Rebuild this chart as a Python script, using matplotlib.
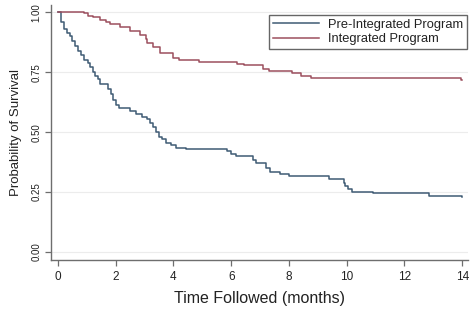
import matplotlib
matplotlib.use("Agg")
import matplotlib.pyplot as plt

plt.rcParams['font.family'] = ['Liberation Sans', 'DejaVu Sans']

# Pre-Integrated Program (Kaplan-Meier steps)
pre_time = [0, 0.12, 0.2, 0.3, 0.42, 0.5, 0.6, 0.7, 0.8, 0.9,
            1.05, 1.12, 1.2, 1.3, 1.38, 1.45, 1.75, 1.85, 1.92, 2.0,
            2.1, 2.5, 2.7, 2.9, 3.08, 3.2, 3.3, 3.4, 3.5, 3.6,
            3.75, 3.9, 4.1, 4.45, 5.87, 6.0, 6.15, 6.75, 6.85, 7.2,
            7.35, 7.7, 8.0, 9.38, 9.9, 9.95, 10.05, 10.2, 10.9, 12.85,
            14.0]
pre_surv = [1.0, 0.96, 0.93, 0.915, 0.90, 0.88, 0.86, 0.84, 0.82, 0.80,
            0.79, 0.77, 0.75, 0.735, 0.72, 0.70, 0.68, 0.66, 0.635, 0.615,
            0.60, 0.59, 0.575, 0.565, 0.555, 0.54, 0.52, 0.50, 0.48, 0.47,
            0.455, 0.445, 0.435, 0.428, 0.42, 0.41, 0.40, 0.385, 0.37, 0.35,
            0.333, 0.325, 0.318, 0.304, 0.29, 0.275, 0.262, 0.252, 0.247, 0.233,
            0.23]

# Integrated Program
int_time = [0, 0.9, 1.05, 1.2, 1.45, 1.65, 1.8, 2.15, 2.5, 2.85, 3.05, 3.1,
            3.3, 3.55, 4.0, 4.2, 4.9, 6.2, 6.45, 7.1, 7.3, 8.1,
            8.4, 8.75, 13.95, 14.0]
int_surv = [1.0, 0.995, 0.985, 0.978, 0.967, 0.96, 0.952, 0.937, 0.92, 0.905, 0.89, 0.87,
            0.855, 0.828, 0.81, 0.80, 0.793, 0.786, 0.78, 0.765, 0.755, 0.745,
            0.735, 0.724, 0.718, 0.718]

series_labels = ["Pre-Integrated Program", "Integrated Program"]
x_ticks = [0, 2, 4, 6, 8, 10, 12, 14]
y_ticks = [0.00, 0.25, 0.50, 0.75, 1.00]
y_tick_labels = ["0.00", "0.25", "0.50", "0.75", "1.00"]

fig = plt.figure(figsize=(4.74, 3.17), dpi=100)
ax = fig.add_axes([51/474, 57/317, (468-51)/474, (312-57)/317])

blue = '#3f5b74'
red = '#9c4f5e'
ax.plot(pre_time, pre_surv, drawstyle='steps-post', color=blue, lw=1.1, label=series_labels[0])
ax.plot(int_time, int_surv, drawstyle='steps-post', color=red, lw=1.1, label=series_labels[1])

ax.set_xlim(-0.24, 14.2)
ax.set_ylim(-0.033, 1.03)
ax.set_xticks(x_ticks)
ax.set_yticks(y_ticks)
ax.set_yticklabels(y_tick_labels, rotation=90, va='center')
for g in y_ticks:
    ax.axhline(g, color='#ececec', lw=0.8, zorder=0)

for s in ['top', 'right']:
    ax.spines[s].set_visible(False)
for s in ['left', 'bottom']:
    ax.spines[s].set_color('#6e6e6e')
    ax.spines[s].set_linewidth(1.0)
ax.tick_params(axis='both', colors='#6e6e6e', length=4, width=0.9, direction='out')
ax.tick_params(axis='x', labelcolor='#222222', labelsize=8.5, pad=4)
ax.tick_params(axis='y', labelcolor='#222222', labelsize=7, pad=3)

ax.set_xlabel("Time Followed (months)", fontsize=11.5, color='#222222', labelpad=6)
ax.set_ylabel("Probability of Survival", fontsize=9.5, color='#222222', labelpad=7)

leg = ax.legend(loc='upper right', bbox_to_anchor=(0.998, 0.962), fontsize=9.3,
                frameon=True, fancybox=False, borderaxespad=0, handlelength=3.6,
                handletextpad=0.7, borderpad=0.3, labelspacing=0.2)
leg.get_frame().set_edgecolor('#404040')
leg.get_frame().set_linewidth(1.0)
for t in leg.get_texts():
    t.set_color('#222222')

fig.savefig("out.png", dpi=100)
